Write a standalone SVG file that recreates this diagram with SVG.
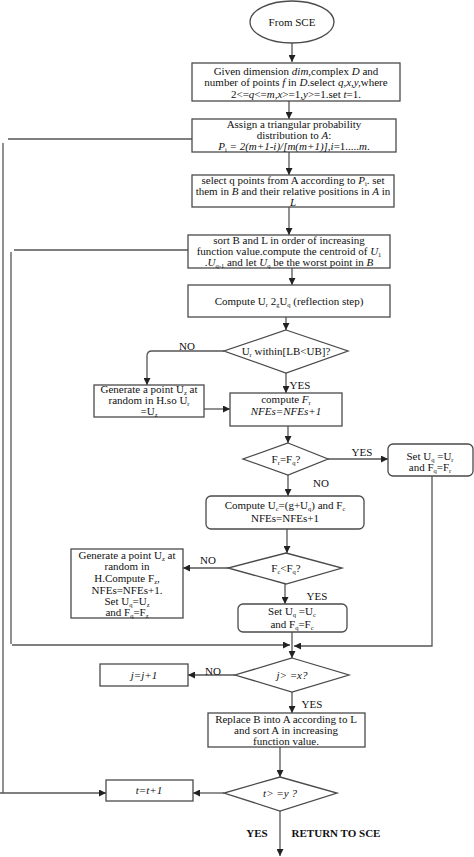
<svg xmlns="http://www.w3.org/2000/svg" width="474" height="857" viewBox="0 0 474 857">
<defs>
<marker id="ah" viewBox="0 0 10 10" refX="10" refY="5" markerWidth="7" markerHeight="7" markerUnits="userSpaceOnUse" orient="auto">
<path d="M0,0 L10,5 L0,10 Z" fill="#222"/>
</marker>
</defs>
<style>
.n{fill:#fff;stroke:#4a4a4a;stroke-width:1.3}
.t{font-family:"Liberation Serif","Times New Roman",serif;font-size:11px;fill:#111;text-anchor:middle}
.i{font-style:italic}
.s{font-size:6.5px}
.b{font-weight:bold}
.c{fill:none;stroke:#555;stroke-width:1.3}
.a{marker-end:url(#ah)}
</style>
<rect width="474" height="857" fill="#fff"/>
<g id="connectors">
<path class="c a" d="M292,43 V62"/>
<path class="c a" d="M289,101 V119"/>
<path class="c a" d="M289,152 V175"/>
<path class="c a" d="M289,207 V235"/>
<path class="c a" d="M292,268 V285"/>
<path class="c a" d="M286,317 V330"/>
<path class="c a" d="M224,351 H152 Q147,351 147,356 V385"/>
<path class="c a" d="M286,373 V393"/>
<path class="c a" d="M204,409 H230"/>
<path class="c a" d="M288,426 V443"/>
<path class="c a" d="M328,459 H388"/>
<path class="c a" d="M288,475 V496"/>
<path class="c a" d="M287,529 V553"/>
<path class="c a" d="M228,568 H183"/>
<path class="c a" d="M285,584 V604"/>
<path class="c a" d="M292,632 V658"/>
<path class="c a" d="M432,476 V646 H294"/>
<path class="c a" d="M12,645 H290"/>
<path class="c" d="M11,252 V644"/>
<path class="c" d="M14,250 H188"/>
<path class="c" d="M8,139 H192"/>
<path class="c" d="M3,143 V793"/>
<path class="c a" d="M0,793 H106"/>
<path class="c a" d="M235,675 H188"/>
<path class="c a" d="M292,692 V713"/>
<path class="c a" d="M280,747 V777"/>
<path class="c a" d="M224,793 H193"/>
<path class="c a" d="M280,811 V856"/>
</g>
<g id="start">
<ellipse class="n" cx="292" cy="22" rx="42" ry="21"/>
<text class="t" x="292" y="26">From SCE</text>
</g>
<g id="given">
<rect class="n" x="192" y="63" width="208" height="38"/>
<text class="t" x="296" y="75">Given dimension <tspan class="i">dim</tspan>,complex <tspan class="i">D</tspan> and</text>
<text class="t" x="296" y="86">number of points <tspan class="i">f</tspan> in <tspan class="i">D</tspan>.select <tspan class="i">q,x,y,</tspan>where</text>
<text class="t" x="296" y="98">2&lt;=<tspan class="i">q</tspan>&lt;=<tspan class="i">m,x</tspan>&gt;=1,<tspan class="i">y</tspan>&gt;=1.set <tspan class="i">t</tspan>=1.</text>
</g>
<g id="assign">
<rect class="n" x="192" y="119" width="204" height="33"/>
<text class="t" x="294" y="128">Assign a triangular probability</text>
<text class="t" x="294" y="139">distribution to <tspan class="i">A</tspan>:</text>
<text class="t" x="294" y="150"><tspan class="i">P</tspan><tspan class="s" dy="1.5">i</tspan><tspan class="i" dy="-1.5"> = 2(m+1-i)/[m(m+1)]</tspan>,<tspan class="i">i</tspan>=1.....<tspan class="i">m</tspan>.</text>
</g>
<g id="select">
<rect class="n" x="192" y="175" width="202" height="32"/>
<text class="t" x="293" y="184">select q points from A according to <tspan class="i">P</tspan><tspan class="s" dy="1.5">i</tspan><tspan dy="-1.5">. set</tspan></text>
<text class="t" x="293" y="195">them in <tspan class="i">B</tspan> and their relative positions in <tspan class="i">A</tspan> in</text>
<text class="t" x="293" y="206"><tspan class="i">L</tspan></text>
</g>
<g id="sort">
<rect class="n" x="188" y="235" width="202" height="33"/>
<text class="t" x="289" y="244">sort B and L in order of increasing</text>
<text class="t" x="289" y="255">function value.compute the centroid of <tspan class="i">U</tspan><tspan class="s" dy="1.5">1</tspan></text>
<text class="t" x="289" y="266">.<tspan class="i">U</tspan><tspan class="s" dy="1.5">q-1</tspan><tspan dy="-1.5"> and let </tspan><tspan class="i">U</tspan><tspan class="s" dy="1.5">q</tspan><tspan dy="-1.5"> be the worst point in </tspan><tspan class="i">B</tspan></text>
</g>
<g id="reflect">
<rect class="n" x="188" y="285" width="202" height="32"/>
<text class="t" x="289" y="305">Compute U<tspan class="s" dy="1.5">r</tspan><tspan dy="-1.5">  2</tspan><tspan class="s" dy="1.5">g</tspan><tspan dy="-1.5">U</tspan><tspan class="s" dy="1.5">q</tspan><tspan dy="-1.5">  (reflection step)</tspan></text>
</g>
<g id="within">
<polygon class="n" points="286,330 348,351 286,373 224,351"/>
<text class="t" x="286" y="355">U<tspan class="s" dy="1.5">r</tspan><tspan dy="-1.5"> within[LB&lt;UB]?</tspan></text>
</g>
<g id="gen1">
<rect class="n" x="94" y="385" width="110" height="32"/>
<text class="t" x="149" y="393">Generate a point U<tspan class="s" dy="1.5">z</tspan><tspan dy="-1.5"> at</tspan></text>
<text class="t" x="149" y="404">random in H.so U<tspan class="s" dy="1.5">r</tspan></text>
<text class="t" x="149" y="415">=U<tspan class="s" dy="1.5">z</tspan></text>
</g>
<g id="computeF">
<rect class="n" x="230" y="393" width="112" height="33"/>
<text class="t" x="286" y="403">compute <tspan class="i">F</tspan><tspan class="s" dy="1.5">r</tspan></text>
<text class="t i" x="286" y="415">NFEs=NFEs+1</text>
</g>
<g id="cmp1">
<polygon class="n" points="288,443 328,459 288,475 243,459"/>
<text class="t" x="286" y="463">F<tspan class="s" dy="1.5">r</tspan><tspan dy="-1.5">=F</tspan><tspan class="s" dy="1.5">q</tspan><tspan dy="-1.5">?</tspan></text>
</g>
<g id="set1">
<rect class="n" x="388" y="444" width="85" height="32" rx="5"/>
<text class="t" x="430" y="460">Set U<tspan class="s" dy="1.5">q</tspan><tspan dy="-1.5"> =U</tspan><tspan class="s" dy="1.5">r</tspan></text>
<text class="t" x="430" y="471">and F<tspan class="s" dy="1.5">q</tspan><tspan dy="-1.5">=F</tspan><tspan class="s" dy="1.5">r</tspan></text>
</g>
<g id="contract">
<rect class="n" x="206" y="496" width="158" height="33" rx="5"/>
<text class="t" x="285" y="509">Compute U<tspan class="s" dy="1.5">c</tspan><tspan dy="-1.5">=(g+U</tspan><tspan class="s" dy="1.5">q</tspan><tspan dy="-1.5">) and F</tspan><tspan class="s" dy="1.5">c</tspan></text>
<text class="t" x="285" y="522">NFEs=NFEs+1</text>
</g>
<g id="cmp2">
<polygon class="n" points="286,553 342,568 286,584 228,568"/>
<text class="t" x="286" y="572">F<tspan class="s" dy="1.5">c</tspan><tspan dy="-1.5">&lt;F</tspan><tspan class="s" dy="1.5">q</tspan><tspan dy="-1.5">?</tspan></text>
</g>
<g id="gen2">
<rect class="n" x="71" y="549" width="112" height="69"/>
<text class="t" x="127" y="559">Generate a point U<tspan class="s" dy="1.5">z</tspan><tspan dy="-1.5"> at</tspan></text>
<text class="t" x="127" y="570">random in</text>
<text class="t" x="127" y="582">H.Compute F<tspan class="s" dy="1.5">z</tspan><tspan dy="-1.5">,</tspan></text>
<text class="t" x="127" y="594">NFEs=NFEs+1.</text>
<text class="t" x="127" y="605">Set U<tspan class="s" dy="1.5">q</tspan><tspan dy="-1.5">=U</tspan><tspan class="s" dy="1.5">z</tspan></text>
<text class="t" x="127" y="616">and F<tspan class="s" dy="1.5">q</tspan><tspan dy="-1.5">=F</tspan><tspan class="s" dy="1.5">z</tspan></text>
</g>
<g id="set2">
<rect class="n" x="238" y="604" width="109" height="28" rx="5"/>
<text class="t" x="292" y="615">Set U<tspan class="s" dy="1.5">q</tspan><tspan dy="-1.5"> =U</tspan><tspan class="s" dy="1.5">c</tspan></text>
<text class="t" x="292" y="628">and F<tspan class="s" dy="1.5">q</tspan><tspan dy="-1.5">=F</tspan><tspan class="s" dy="1.5">c</tspan></text>
</g>
<g id="cmpj">
<polygon class="n" points="292,658 349,675 292,692 235,675"/>
<text class="t i" x="292" y="679">j&gt; =x?</text>
</g>
<g id="jinc">
<rect class="n" x="100" y="664" width="88" height="22"/>
<text class="t i" x="144" y="679">j=j+1</text>
</g>
<g id="replace">
<rect class="n" x="208" y="713" width="157" height="34"/>
<text class="t" x="286" y="723">Replace B into A according to L</text>
<text class="t" x="286" y="734">and sort A in increasing</text>
<text class="t" x="286" y="745">function value.</text>
</g>
<g id="cmpt">
<polygon class="n" points="280,777 337,793 280,811 224,793"/>
<text class="t i" x="280" y="797">t&gt; =y ?</text>
</g>
<g id="tinc">
<rect class="n" x="106" y="780" width="87" height="21"/>
<text class="t i" x="149" y="794">t=t+1</text>
</g>
<g id="labels">
<text class="t" x="187" y="350">NO</text>
<text class="t" x="300" y="389">YES</text>
<text class="t" x="362" y="456">YES</text>
<text class="t" x="321" y="487">NO</text>
<text class="t" x="208" y="564">NO</text>
<text class="t" x="317" y="600">YES</text>
<text class="t" x="213" y="675">NO</text>
<text class="t" x="312" y="708">YES</text>
<text class="t b" x="257" y="837">YES</text>
<text class="t b" x="336" y="837">RETURN TO SCE</text>
</g>
</svg>
